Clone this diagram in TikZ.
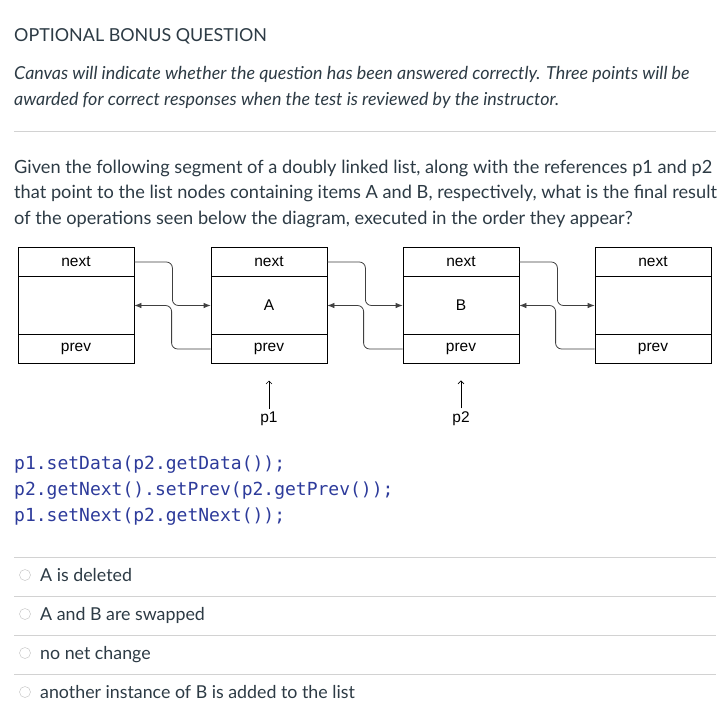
\documentclass[tikz,border=0pt]{standalone}
\usepackage{fontspec}
\setmainfont{Lato}
\newfontfamily\arialfont{Liberation Sans}
\newfontfamily\codefont{DejaVu Sans Mono}
\usetikzlibrary{arrows.meta,positioning}
\definecolor{codeblue}{RGB}{45,59,155}
\definecolor{textgray}{RGB}{45,59,69}
\definecolor{rulegray}{RGB}{210,210,210}

\tikzset{
  txt/.style={anchor=base west,inner sep=0pt,text=textgray,font=\fontsize{18.2}{22}\selectfont},
  codeline/.style={anchor=base west,inner sep=0pt,text=codeblue,font=\codefont\fontsize{18}{22}\selectfont},
  cell/.style={draw,line width=0.8pt,minimum width=116pt,inner sep=0pt,font=\arialfont\fontsize{15.5}{18}\selectfont},
  link/.style={line width=0.8pt,draw=black!75,rounded corners=6pt,-{Latex[length=7pt,width=5.5pt]}},
  radio/.style={circle,draw=black!25,minimum size=11pt,inner sep=0pt}
}

\begin{document}
\begin{tikzpicture}[x=1pt,y=-1pt]
  \useasboundingbox[fill=white] (0,0) rectangle (726,724);

  % heading
  \node[txt,font=\fontsize{17.9}{22}\selectfont] (title) at (14,41) {OPTIONAL BONUS QUESTION};
  \node[txt,font=\itshape\fontsize{17.9}{22}\selectfont] (note1) at (14,79) {Canvas will indicate whether the question has been answered correctly. Three points will be};
  \node[txt,font=\itshape\fontsize{17.9}{22}\selectfont] (note2) at (14,105) {awarded for correct responses when the test is reviewed by the instructor.};
  \draw[rulegray,line width=1pt] (14,131) -- (716,131);

  \node[txt] (ask1) at (14,173) {Given the following segment of a doubly linked list, along with the references p1 and p2};
  \node[txt] (ask2) at (14,198) {that point to the list nodes containing items A and B, respectively, what is the final result};
  \node[txt] (ask3) at (14,224) {of the operations seen below the diagram, executed in the order they appear?};

  % list nodes
  \foreach \i/\x/\item in {1/76/{},2/269/A,3/461/B,4/653/{}} {
    \node[cell,minimum height=29pt] (next\i) at (\x,262) {next};
    \node[cell,minimum height=58pt,below=-0.8pt of next\i] (data\i) {\item};
    \node[cell,minimum height=29pt,below=-0.8pt of data\i] (prev\i) {prev};
  }

  % links
  \foreach \a/\b in {1/2,2/3,3/4} {
    \draw[link] (next\a.east) -| ([xshift=38pt]next\a.east |- data\b.west) -- (data\b.west);
    \draw[link] (prev\b.west) -| ([xshift=-39pt]prev\b.west |- data\a.east) -- (data\a.east);
  }

  % references
  \node[font=\arialfont\fontsize{15.5}{18}\selectfont] (p1) at (269,419) {p1};
  \node[font=\arialfont\fontsize{15.5}{18}\selectfont] (p2) at (461,419) {p2};
  \draw[line width=0.6pt,-{Straight Barb[length=3pt]}] (p1.north) -- ++(0,-28);
  \draw[line width=0.6pt,-{Straight Barb[length=3pt]}] (p2.north) -- ++(0,-28);

  % code
  \node[codeline] (code1) at (14,469) {p1.setData(p2.getData());};
  \node[codeline] (code2) at (14,495) {p2.getNext().setPrev(p2.getPrev());};
  \node[codeline] (code3) at (14,521) {p1.setNext(p2.getNext());};

  % answers
  \foreach \y in {557,596,635,674}
    \draw[rulegray,line width=1pt] (14,\y) -- (716,\y);
  \foreach \n/\y/\ans in {1/581/A is deleted,2/620/A and B are swapped,3/659/no net change,4/698/another instance of B is added to the list} {
    \node[radio] (radio\n) at (25,\y-6) {};
    \node[txt,font=\fontsize{17.8}{22}\selectfont] (ans\n) at (40,\y) {\ans};
  }
\end{tikzpicture}
\end{document}
